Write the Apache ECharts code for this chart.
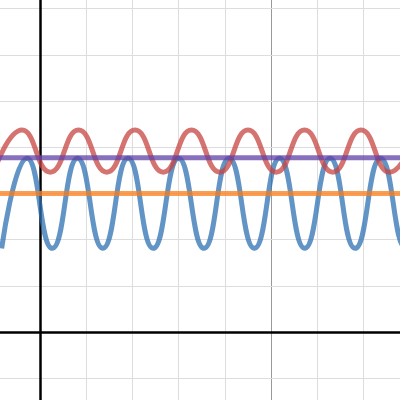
<!DOCTYPE html>
<html>
<head>
	<meta charset="utf-8">
	<script src="https://cdn.jsdelivr.net/npm/echarts@6/dist/echarts.min.js"></script>
	<style>body{margin:0;} #main{width:400px;height:400px;}</style>
</head>
<body>
	<div id="main"></div>
	<script type="text/javascript">
		// extrema, in graph units
		var blueX = [-0.83, -0.28, 0.266, 0.813, 1.36, 1.906, 2.45, 2.999, 3.55, 4.092, 4.64, 5.185, 5.73, 6.278, 6.82, 7.371, 7.92, 8.464];
		var blueY = [1.81, 3.76, 1.81, 3.76, 1.81, 3.76, 1.81, 3.76, 1.81, 3.76, 1.81, 3.76, 1.81, 3.76, 1.81, 3.76, 1.81, 3.76];
		var redX = [-1.0, -0.39, 0.222, 0.833, 1.445, 2.056, 2.668, 3.279, 3.891, 4.502, 5.114, 5.725, 6.337, 6.948, 7.56, 8.171];
		var redY = [3.46, 4.37, 3.46, 4.37, 3.46, 4.37, 3.46, 4.37, 3.46, 4.37, 3.46, 4.37, 3.46, 4.37, 3.46, 4.37];
		var orangeY = 3.0;
		var purpleY = 3.77;
		var gridX = [1, 2, 3, 4, 5, 6, 7];
		var gridY = [-1, 1, 2, 3, 4, 5, 6, 7];

		function zip(xs, ys) {
			return xs.map(function (x, i) { return [x, ys[i]]; });
		}
		var gridLines = [];
		gridX.forEach(function (v) {
			gridLines.push({xAxis: v, lineStyle: {color: v % 5 === 0 ? '#999' : '#ddd', width: 1, type: 'solid'}});
		});
		gridY.forEach(function (v) {
			gridLines.push({yAxis: v, lineStyle: {color: '#ddd', width: 1, type: 'solid'}});
		});
		gridLines.push({xAxis: 0, lineStyle: {color: '#000', width: 2.5, type: 'solid'}});
		gridLines.push({yAxis: 0, lineStyle: {color: '#000', width: 2.5, type: 'solid'}});

		var myChart = echarts.init(document.getElementById('main'));
		var wave = function (data, color) {
			return {
				type: 'line', data: data, smooth: 0.5, showSymbol: false, silent: true, z: 5,
				lineStyle: {color: color, width: 5, opacity: 0.75}
			};
		};
		var flat = function (y, color) {
			return {
				type: 'line', data: [[-2, y], [10, y]], showSymbol: false, silent: true, z: 5,
				lineStyle: {color: color, width: 5, opacity: 0.75}
			};
		};
		myChart.setOption({
			animation: false,
			backgroundColor: '#fff',
			grid: {left: 0, right: 0, top: 0, bottom: 0},
			xAxis: {type: 'value', min: -0.866, max: 7.792, show: false},
			yAxis: {type: 'value', min: -1.472, max: 7.186, show: false},
			series: [
				{
					type: 'line', data: [], silent: true, z: 1,
					markLine: {silent: true, symbol: 'none', label: {show: false}, animation: false, data: gridLines}
				},
				wave(zip(blueX, blueY), '#2d70b3'),
				wave(zip(redX, redY), '#c74440'),
				flat(orangeY, '#fa7e19'),
				flat(purpleY, '#6042a6')
			]
		});
	</script>
</body>
</html>
